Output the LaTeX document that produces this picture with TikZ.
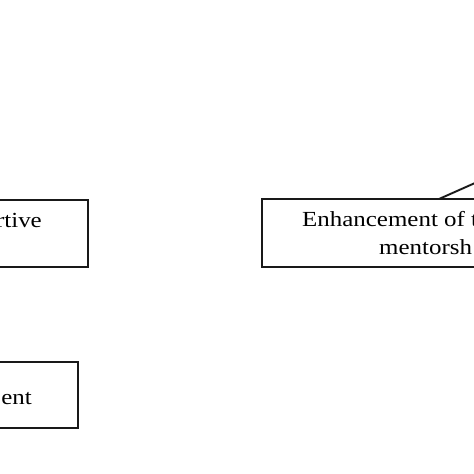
\documentclass[tikz,border=0pt]{standalone}
\usepackage{fontspec}
\setmainfont[FakeStretch=1.16]{Liberation Serif}
\begin{document}
\begin{tikzpicture}[x=1pt,y=1pt,
  box/.style={draw=black!90,line width=1.9pt,fill=white,inner sep=0pt},
  lbl/.style={inner sep=0pt,font=\fontsize{21.5}{28}\selectfont,text=black}]
\useasboundingbox (0,0) rectangle (474,474);
\fill[white] (0,0) rectangle (474,474);
\clip (0,0) rectangle (474,474);
% boxes
\node[box,minimum width=198pt,minimum height=67pt] (b1) at (-11,240.5) {};
\node[box,minimum width=360pt,minimum height=68pt] (b2) at (442,241) {};
\node[box,minimum width=178pt,minimum height=66pt] (b3) at (-11,79) {};
% texts
\node[lbl,anchor=base east] (t1) at (42,246) {rtive};
\node[lbl,anchor=base west] (t2a) at (302,247.7) {Enhancement of t};
\node[lbl,anchor=base west] (t2b) at (379,219) {mentorsh};
\node[lbl,anchor=base east] (t3) at (32,69) {ent};
% connector
\coordinate (c) at (520,311);
\draw[line width=1.9pt,black!90] (439,275) -- (c);
\end{tikzpicture}
\end{document}
